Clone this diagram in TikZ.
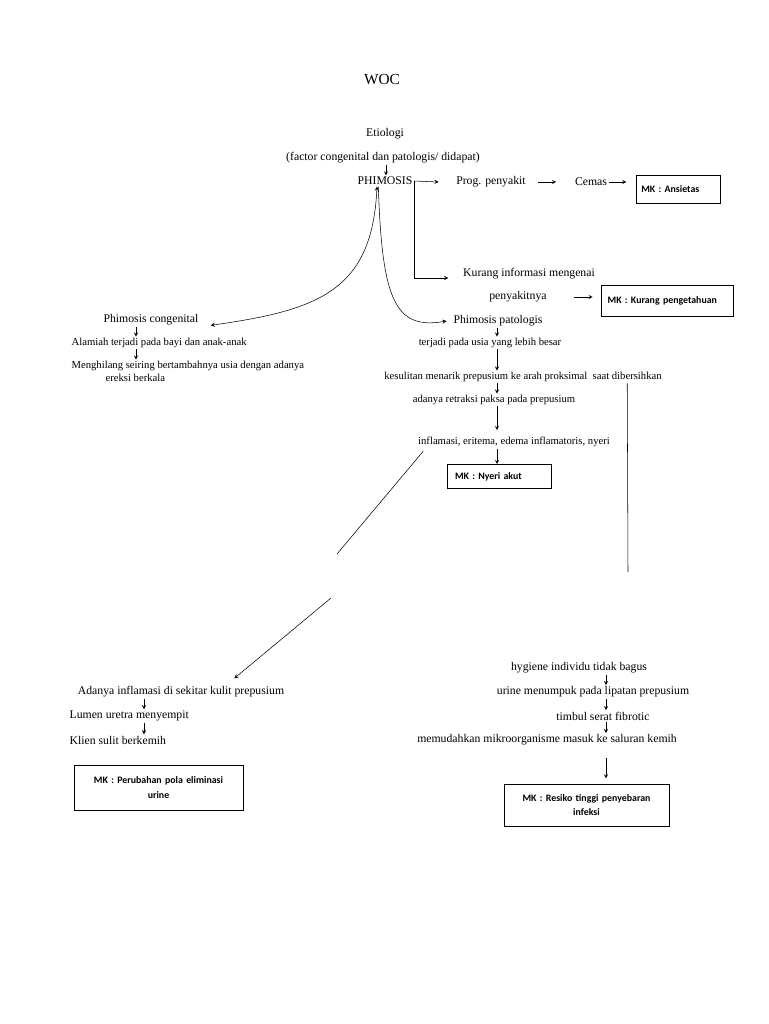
\documentclass[tikz,border=0pt]{standalone}
\usepackage{fontspec}
\setmainfont{Liberation Serif}
\newfontfamily\mkfont{Carlito}
\usepackage{tikz}
\usetikzlibrary{arrows,positioning,calc}

\begin{document}
\begin{tikzpicture}[x=0.75pt, y=-0.75pt]
\tikzstyle{txt} = [inner sep=1pt, font=\fontsize{8.8}{10.5}\selectfont]
\tikzstyle{small} = [inner sep=1pt, font=\fontsize{8}{9.5}\selectfont]
\tikzstyle{mk} = [rectangle, draw, thin, align=center, inner sep=4pt, font=\mkfont\bfseries\fontsize{7.4}{11}\selectfont]
\tikzstyle{arrow} = [thin,->,>=stealth]

\useasboundingbox (0,0) rectangle (768,1024);

\coordinate (mc) at (386,0);
\coordinate (lc) at (136,0);
\coordinate (pc) at (497,0);
\coordinate (rc) at (606,0);
\coordinate (ac) at (144,0);

\node (woc) [txt, font=\fontsize{11.5}{13}\selectfont] at (382,80) {WOC};
\node (etiologi) [txt] at (385,134) {Etiologi};
\node (factor) [txt] at (383,158) {(factor congenital dan patologis/ didapat)};
\node (phimosis) [txt] at (385,181) {PHIMOSIS};
\node (prog) [txt] at (491,182) {Prog. penyakit};
\node (cemas) [txt] at (591,182) {Cemas};
\node (ansietas) [mk, text width=55pt, align=left, minimum height=21pt] at (678,189) {MK : Ansietas};
\node (kurang) [txt] at (529,274) {Kurang informasi mengenai};
\node (penyakitnya) [txt] at (518,297) {penyakitnya};
\node (kurangpeng) [mk, text width=89pt, align=left, inner sep=5pt, minimum height=23pt] at (667,300.5) {MK : Kurang pengetahuan};

\node (cong) [txt] at (151,320) {Phimosis congenital};
\node (alamiah) [small, anchor=west] at (70,343) {Alamiah terjadi pada bayi dan anak-anak};
\node (menghilang) [small, anchor=west] at (70,366) {Menghilang seiring bertambahnya usia dengan adanya};
\node (ereksi) [small, anchor=west] at (104,378) {ereksi berkala};

\node (patologis) [txt] at (498,321) {Phimosis patologis};
\node (terjadi) [small] at (490,343) {terjadi pada usia yang lebih besar};
\node (kesulitan) [small] at (523,377) {kesulitan menarik prepusium ke arah proksimal \ saat dibersihkan};
\node (retraksi) [small] at (494,400) {adanya retraksi paksa pada prepusium};
\node (inflamasi) [small] at (514,442) {inflamasi, eritema, edema inflamatoris, nyeri};
\node (nyeri) [mk, text width=66pt, align=left, inner sep=6pt, minimum height=17pt] at (499,476.5) {MK : Nyeri akut};

\node (adanya) [txt] at (181,692) {Adanya inflamasi di sekitar kulit prepusium};
\node (lumen) [txt, anchor=west] at (68,716) {Lumen uretra menyempit};
\node (klien) [txt, anchor=west] at (68,740) {Klien sulit berkemih};
\node (perubahan) [mk, text width=119pt, minimum height=34pt] at (158.5,787.5) {MK : Perubahan pola eliminasi\\urine};

\node (hygiene) [txt] at (579,668) {hygiene individu tidak bagus};
\node (urine) [txt] at (593,692) {urine menumpuk pada lipatan prepusium};
\node (timbul) [txt] at (603,716) {timbul serat fibrotic};
\node (memudahkan) [txt] at (547,740) {memudahkan mikroorganisme masuk ke saluran kemih};
\node (resiko) [mk, text width=116pt, minimum height=31.5pt] at (586.5,805) {MK : Resiko tinggi penyebaran\\infeksi};

\coordinate (d1) at (337,554);
\coordinate (d2) at (331,598);
\coordinate (v2) at (628,572);

\draw [arrow] (factor.south -| mc) -- (phimosis.north -| mc);
\draw [arrow] (phimosis.east) -- ([xshift=-12pt]prog.west);
\draw [arrow] ([xshift=8pt]prog.east) -- ([xshift=-13pt]cemas.west);
\draw [arrow] (cemas.east) -- ([xshift=-7pt]ansietas.west |- cemas.east);
\draw [arrow] (phimosis.east) |- ([xshift=-10pt,yshift=-3pt]kurang.west);
\draw [arrow] ([xshift=19pt]penyakitnya.east) -- ([xshift=-6pt]kurangpeng.west |- penyakitnya.east);

\draw [arrow, <->] ([xshift=8pt,yshift=-4pt]cong.east) .. controls (320,310) and (372,290) .. ([xshift=-6pt]phimosis.south);
\draw [arrow] ([xshift=-5pt]phimosis.south) .. controls (382,300) and (395,330) .. ([xshift=-4pt]patologis.west);

\draw [arrow] (cong.south -| lc) -- (alamiah.north -| lc);
\draw [arrow] (alamiah.south -| lc) -- (menghilang.north -| lc);

\draw [arrow] (patologis.south -| pc) -- (terjadi.north -| pc);
\draw [arrow] (terjadi.south -| pc) -- (kesulitan.north -| pc);
\draw [arrow] (kesulitan.south -| pc) -- (retraksi.north -| pc);
\draw [arrow] (retraksi.south -| pc) -- ([yshift=4pt]inflamasi.north -| pc);
\draw [arrow] (inflamasi.south -| pc) -- (nyeri.north -| pc);

\draw ([xshift=5pt,yshift=-2pt]inflamasi.south west) -- (d1);
\draw [arrow] (d2) -- ([xshift=40pt,yshift=5pt]adanya.north);
\draw ([xshift=-27pt]kesulitan.south east) -- (v2);

\draw [arrow] (adanya.south -| ac) -- (lumen.north -| ac);
\draw [arrow] (lumen.south -| ac) -- (klien.north -| ac);

\draw [arrow] (hygiene.south -| rc) -- (urine.north -| rc);
\draw [arrow] (urine.south -| rc) -- (timbul.north -| rc);
\draw [arrow] (timbul.south -| rc) -- (memudahkan.north -| rc);
\draw [arrow] ([yshift=-8pt]memudahkan.south -| rc) -- ([yshift=4pt]resiko.north -| rc);
\end{tikzpicture}
\end{document}
